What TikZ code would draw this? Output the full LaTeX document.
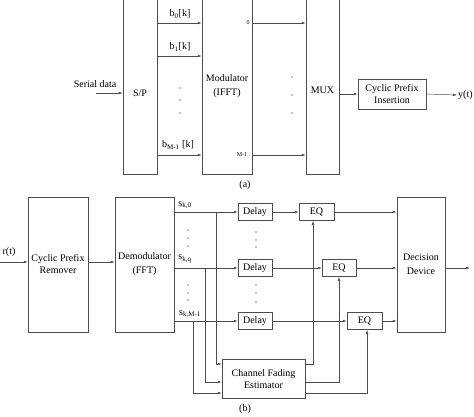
\documentclass[tikz,border=0pt]{standalone}
\usepackage{fontspec}
\setmainfont{Liberation Serif}
\usetikzlibrary{arrows.meta,positioning}

\tikzset{
  blk/.style={draw=black!70, line width=0.5pt, inner sep=0pt, align=center},
  arr/.style={draw=black!70, line width=0.5pt, -{Latex[length=4pt,width=2.6pt]}},
  wire/.style={draw=black!70, line width=0.5pt},
  tinylbl/.style={font=\fontsize{6}{7}\selectfont, inner sep=0pt}
}

\begin{document}
\begin{tikzpicture}[x=1pt,y=-1pt,font=\fontsize{10}{12}\selectfont]

    \useasboundingbox (0,0) rectangle (474,416);
    \clip (0,0) rectangle (474,416);

    % (a) transmitter
    \node[blk, minimum width=34, minimum height=180] (sp) at (140,84) {};
    \node[blk, minimum width=50, minimum height=180] (mod) at (227,84) {};
    \node[blk, minimum width=33, minimum height=180] (mux) at (322.5,84) {};
    \node[blk, minimum width=68, minimum height=30] (cpi) at (392,94) {Cyclic Prefix\\Insertion};

    \node (sptxt) at (140,93) {S/P};
    \node[align=center] (modtxt) at (227,86) {Modulator\\[2pt](IFFT)};
    \node (muxtxt) at (322.5,90) {MUX};

    \coordinate (sin) at (96,93);
    \node (serial) at (95,84) {Serial data};
    \draw[arr] (sin) -- (sp.west |- sin);

    \coordinate (row0) at (0,23);
    \coordinate (row1) at (0,56);
    \coordinate (rowm) at (0,155);

    \foreach \r in {row0,row1,rowm}
    {
        \draw[arr] (sp.east |- \r) -- (mod.west |- \r);
    }
    \foreach \r in {row0,rowm}
    {
        \draw[arr] (mod.east |- \r) -- (mux.west |- \r);
    }

    \node (lb0) at (180,14) {b\textsubscript{0}[k]};
    \node (lb1) at (180,47) {b\textsubscript{1}[k]};
    \node (lbm) at (178,145) {b\textsubscript{M-1} [k]};
    \node[tinylbl] (o0) at (248,23) {0};
    \node[tinylbl] (om) at (242,155) {M-1};

    \foreach \y in {88,100,113}
    {
        \fill (180,\y) circle (0.6);
    }
    \foreach \y in {77,95,113}
    {
        \fill (292,\y) circle (0.6);
    }

    \draw[arr] (mux.east |- cpi.west) -- (cpi.west);
    \node[anchor=west, inner sep=1pt] (yt) at (457,95) {y(t)};
    \draw[arr] (cpi.east) -- (yt.west);

    \node (capa) at (245,185) {(a)};

    % (b) receiver
    \node[blk, minimum width=60, minimum height=135] (cpr) at (58,264.5) {Cyclic Prefix\\Remover};
    \node[blk, minimum width=59, minimum height=135] (dem) at (144.5,264.5) {Demodulator\\[2pt](FFT)};
    \node[blk, minimum width=48, minimum height=135] (dd) at (421,264.5) {Decision\\[2pt]Device};
    \node[blk, minimum width=83, minimum height=39] (cfe) at (263.5,379) {Channel Fading\\Estimator};

    \coordinate (rin) at (0,262);
    \node (rt) at (9,252) {r(t)};
    \draw[arr] (rin) -- (cpr.west |- rin);
    \draw[arr] (cpr.east |- rin) -- (dem.west |- rin);

    \foreach \i/\y in {0/212,1/268,2/321}
    {
        \node[blk, minimum width=34, minimum height=17] (dl\i) at (255,\y) {Delay};
    }
    \node[blk, minimum width=35, minimum height=17] (eq0) at (316.5,212) {EQ};
    \node[blk, minimum width=34, minimum height=17] (eq1) at (339,268) {EQ};
    \node[blk, minimum width=35, minimum height=17] (eq2) at (364.5,321) {EQ};

    \foreach \i in {0,1,2}
    {
        \draw[arr] (dem.east |- dl\i) -- (dl\i.west);
        \draw[arr] (dl\i.east) -- (eq\i.west);
        \draw[arr] (eq\i.east) -- (dd.west |- eq\i);
    }

    \coordinate (dout) at (470,268);
    \draw[arr] (dd.east |- dout) -- (dout);

    \node (s0) at (185,205) {s\textsubscript{k,0}};
    \node (sq) at (185,259) {s\textsubscript{k,q}};
    \node (sm) at (190,314) {s\textsubscript{k,M-1}};

    \foreach \y in {230,238,246,285,293,300}
    {
        \fill (188,\y) circle (0.6);
    }
    \foreach \y in {232,240,247,285,293,302}
    {
        \fill (256,\y) circle (0.6);
    }

    % taps into the estimator
    \coordinate (t0) at (216,364);
    \coordinate (t1) at (205,382);
    \coordinate (t2) at (193,393);
    \draw[arr] (t0 |- dl0) -- (t0) -- (cfe.west |- t0);
    \draw[arr] (t1 |- dl1) -- (t1) -- (cfe.west |- t1);
    \draw[arr] (t2 |- dl2) -- (t2) -- (cfe.west |- t2);

    % estimates to the equalizers
    \draw[arr] (cfe.east |- t0) -| ([xshift=-3.5pt]eq0.south);
    \draw[arr] (cfe.east |- t1) -| (eq1.south);
    \draw[arr] (cfe.east |- t2) -| ([xshift=2.5pt]eq2.south);

    \node (capb) at (245,409) {(b)};

\end{tikzpicture}
\end{document}
